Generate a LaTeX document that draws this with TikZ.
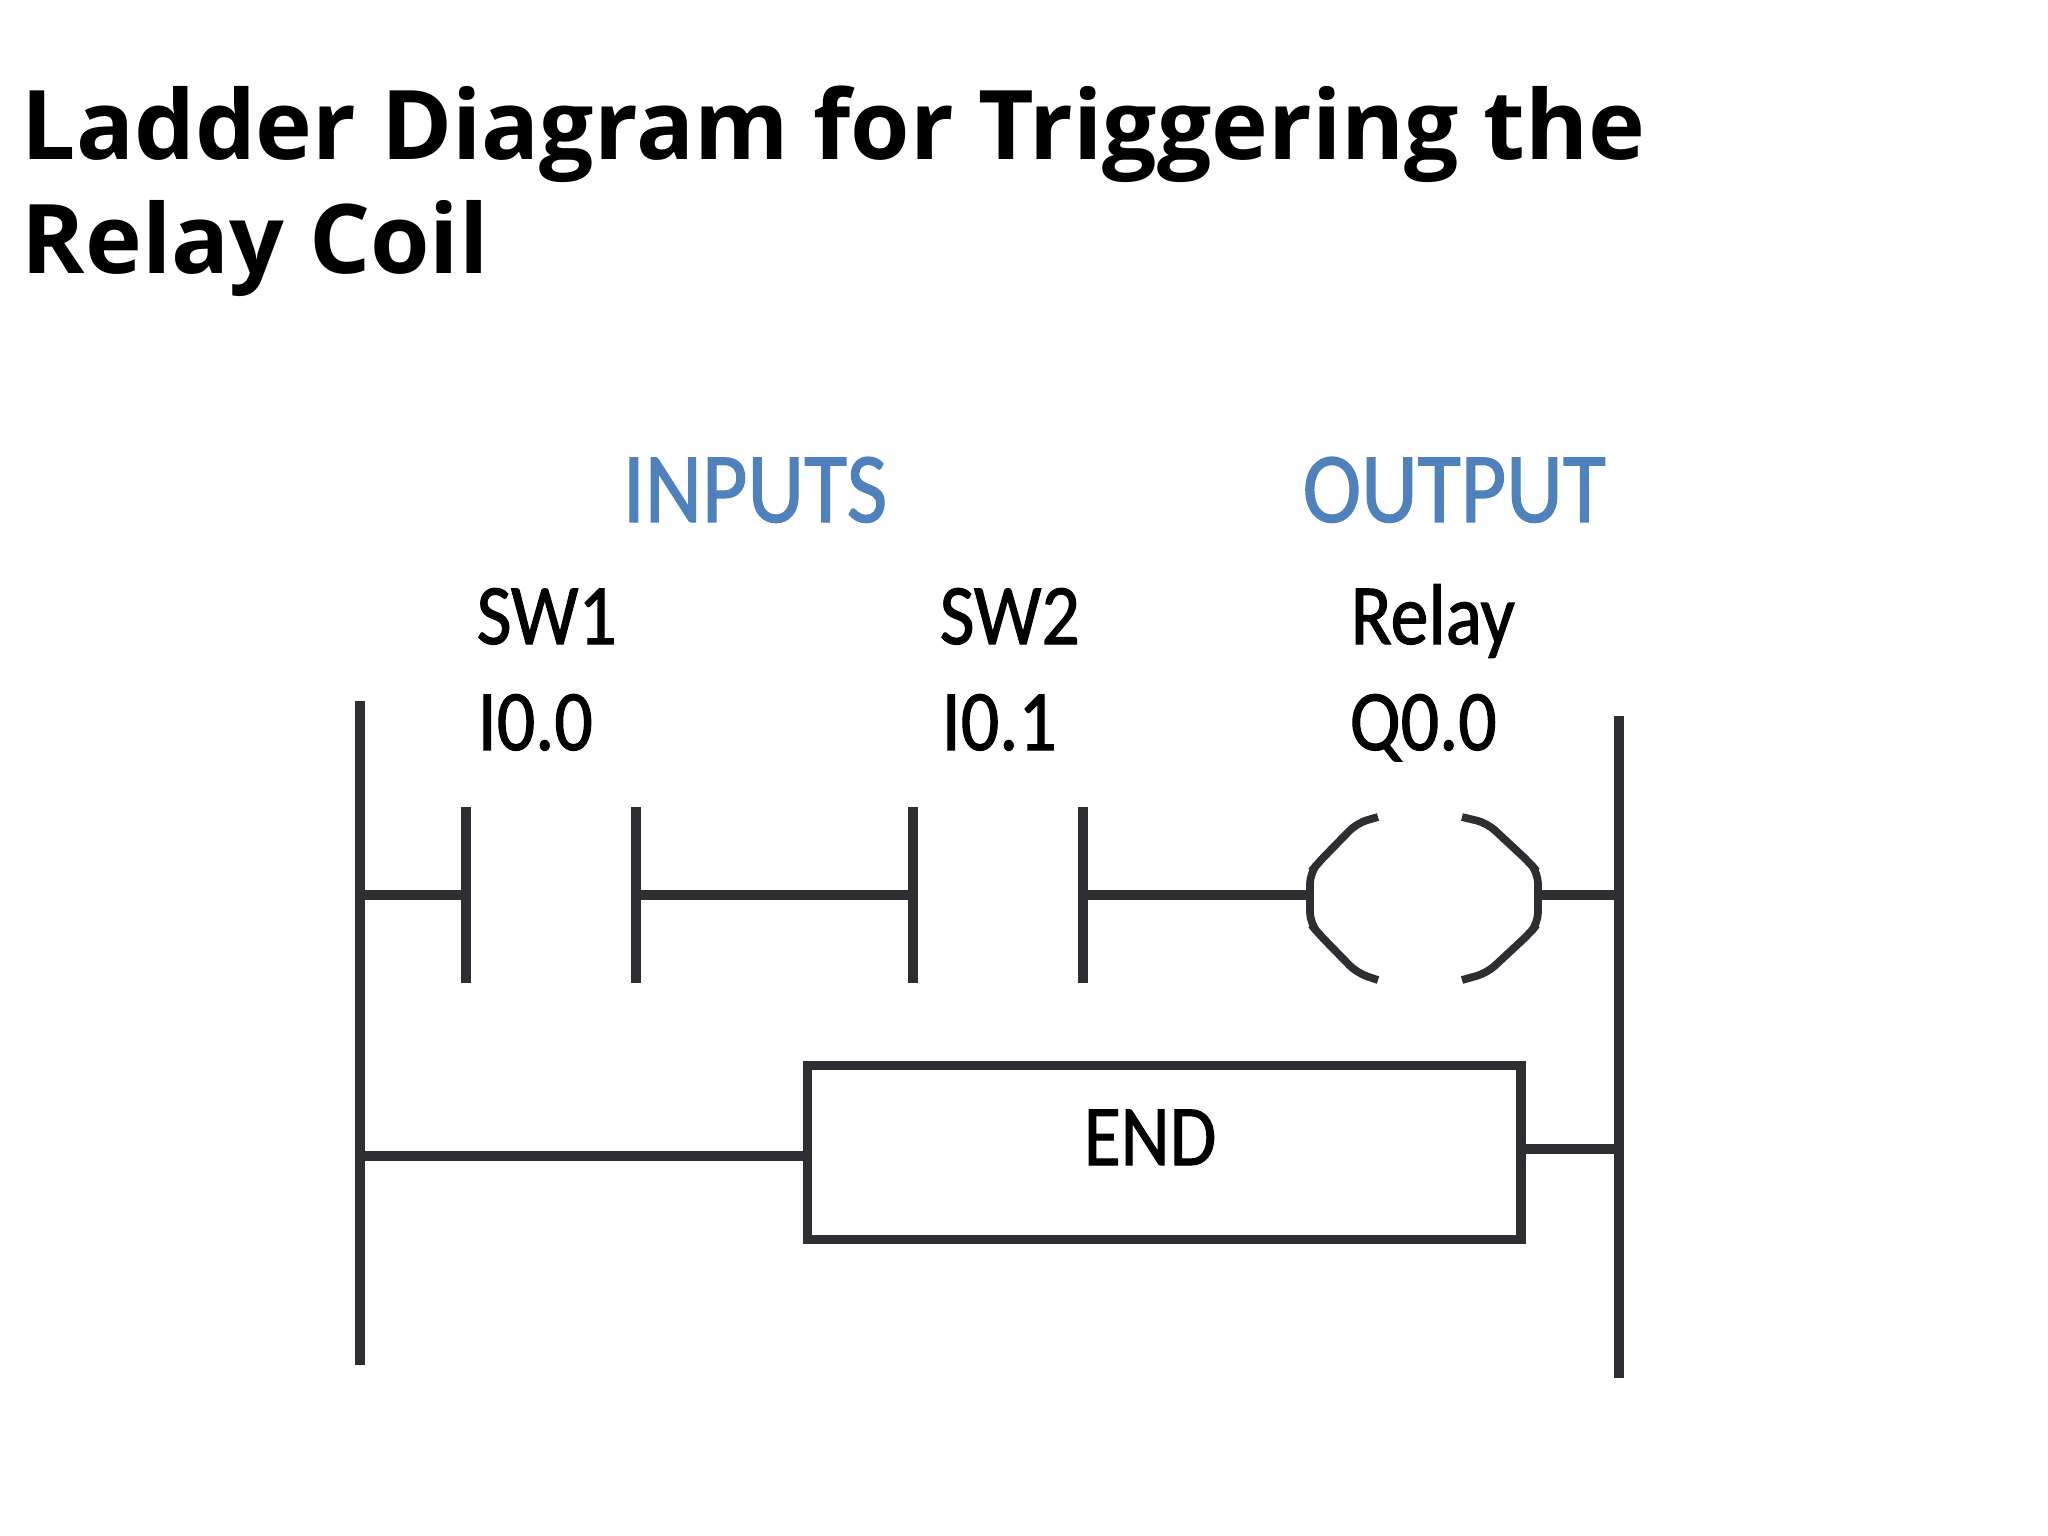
\documentclass[tikz,border=0pt]{standalone}
\usepackage{fontspec}
\setmainfont{Open Sans}
\newfontfamily\labelfont[FakeStretch=0.88,FakeBold=1.2]{Carlito}
\usetikzlibrary{positioning}
\definecolor{printBlue}{RGB}{79, 129, 189}
\definecolor{railGray}{RGB}{45, 45, 50}
\tikzset{
    rail/.style={line width=2.7pt, railGray},
    wire/.style={line width=2.6pt, railGray},
    tag/.style={font=\labelfont\fontsize{24.5}{24.5}\selectfont, anchor=base west, inner sep=0pt, text=black},
    head/.style={font=\labelfont\fontsize{28.5}{28.5}\selectfont, anchor=base west, inner sep=0pt, text=printBlue}
}
\begin{document}
\begin{tikzpicture}[x=0.01cm, y=-0.01cm]
    \useasboundingbox (0,0) rectangle (2048,1536);
    % title
    \node[font=\bfseries\fontsize{27.35}{32.2}\selectfont, anchor=base west, inner sep=0pt, align=left] (title) at (21,273) {Ladder Diagram for Triggering the\\Relay Coil};
    % labels
    \node[head] (inputs) at (622,522) {INPUTS};
    \node[head] (output) at (1302,522) {OUTPUT};
    \node[tag] (sw1) at (476,644) {SW1};
    \node[tag] (i00) at (477,750) {I0.0};
    \node[tag] (sw2) at (939,644) {SW2};
    \node[tag] (i01) at (941,750) {I0.1};
    \node[tag] (relay) at (1350,644) {Relay};
    \node[tag] (q00) at (1349,750) {Q0.0};
    % rails
    \coordinate (railLtop) at (360,701);
    \coordinate (railLbot) at (360,1365);
    \coordinate (railRtop) at (1619,716);
    \coordinate (railRbot) at (1619,1378);
    \draw[rail] (railLtop) -- (railLbot);
    \draw[rail] (railRtop) -- (railRbot);
    % first rung
    \coordinate (a1) at (466,807);
    \coordinate (a2) at (466,983);
    \coordinate (b1) at (636,807);
    \coordinate (b2) at (636,983);
    \coordinate (c1) at (913,807);
    \coordinate (c2) at (913,983);
    \coordinate (d1) at (1083,807);
    \coordinate (d2) at (1083,983);
    \draw[wire] (a1) -- (a2);
    \draw[wire] (b1) -- (b2);
    \draw[wire] (c1) -- (c2);
    \draw[wire] (d1) -- (d2);
    \coordinate (rungL) at (360,895);
    \coordinate (coilL) at (1310,895);
    \coordinate (coilR) at (1538,895);
    \coordinate (rungR) at (1619,895);
    \draw[wire] (rungL) -- (rungL -| a1);
    \draw[wire] (rungL -| b1) -- (rungL -| c1);
    \draw[wire] (rungL -| d1) -- (coilL);
    \draw[wire] (coilR) -- (rungR);
    % coil
    \draw[wire, line width=2.2pt, rounded corners=3pt] (1378,817) -- (1357,823) -- (1318,863) -- (1310,873) -- (coilL) -- (1310,923) -- (1318,933) -- (1357,973) -- (1378,980);
    \draw[wire, line width=2.2pt, rounded corners=3pt] (1462,817) -- (1487,823) -- (1530,863) -- (1538,873) -- (coilR) -- (1538,923) -- (1530,933) -- (1487,973) -- (1462,980);
    % end box
    \node[draw=railGray, line width=2.6pt, minimum width=7.13cm, minimum height=1.74cm, inner sep=0pt, anchor=north west] (endbox) at (803,1061) {};
    \node[tag, anchor=base] (endtext) at (1150,1165) {END};
    \coordinate (endL) at (360,1156);
    \coordinate (endR) at (1619,1149);
    \draw[wire] (endL) -- (endL -| endbox.west);
    \draw[wire] (endR -| endbox.east) -- (endR);
\end{tikzpicture}
\end{document}
